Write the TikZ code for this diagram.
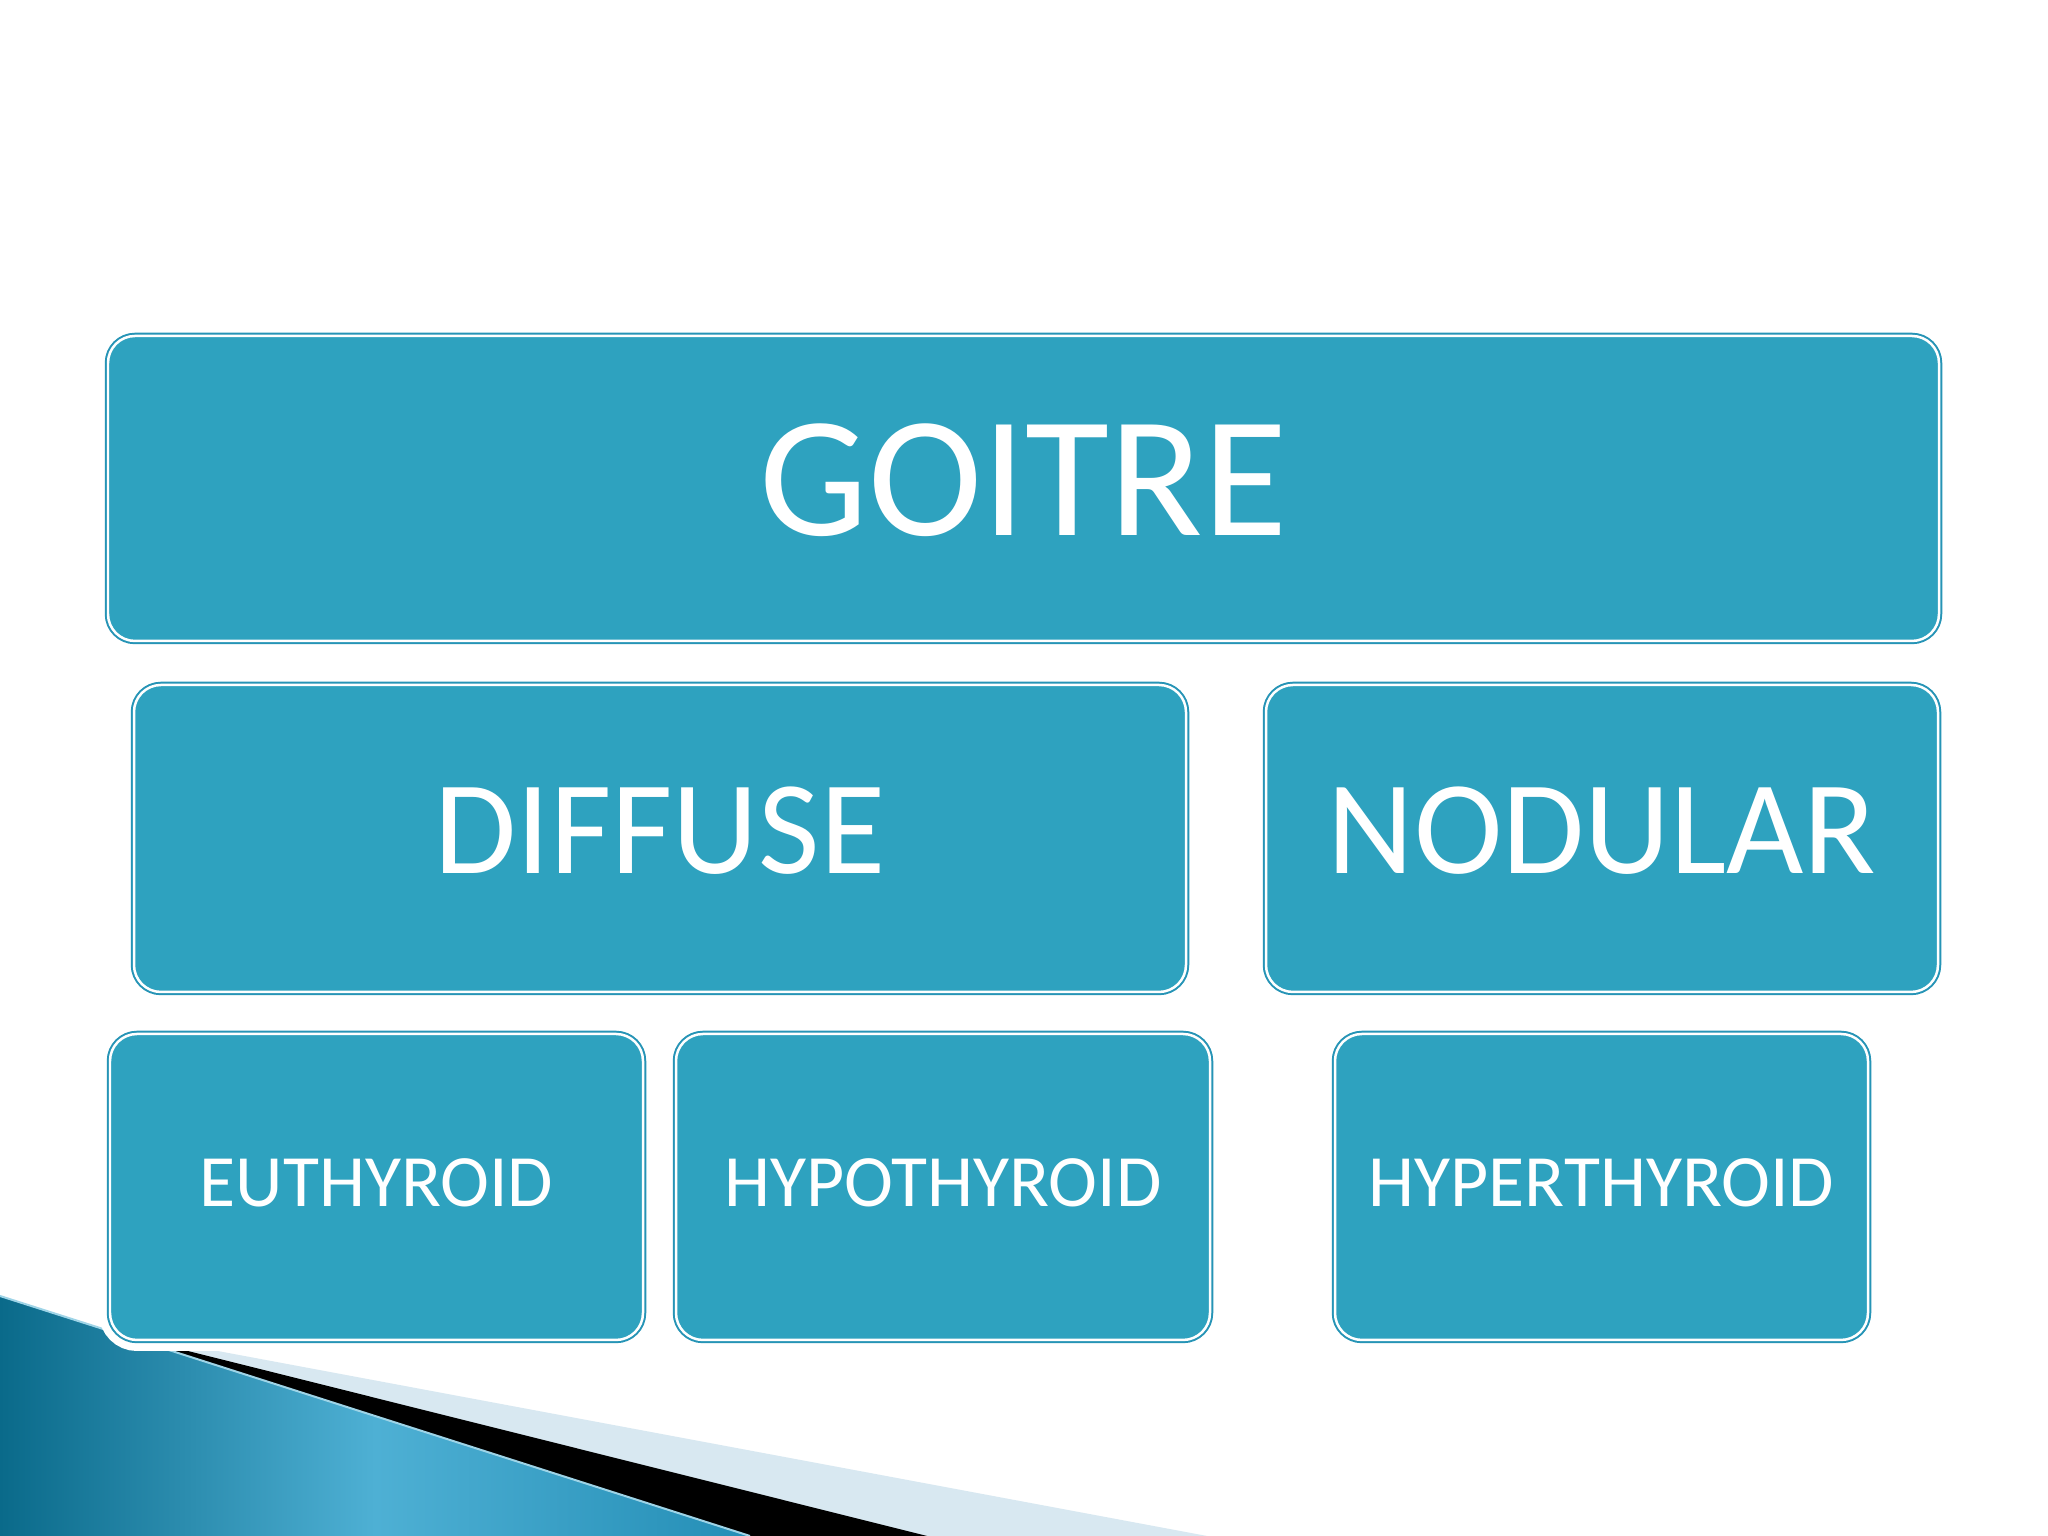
\documentclass[tikz,border=0pt]{standalone}
\usepackage{fontspec}
\setmainfont{Carlito}
\usetikzlibrary{positioning}

\definecolor{boxteal}{RGB}{46,162,191}
\definecolor{ringteal}{RGB}{38,148,182}
\definecolor{bandlight}{RGB}{216,232,241}
\definecolor{cornerdark}{RGB}{10,106,138}
\definecolor{cornerlight}{RGB}{78,176,212}
\definecolor{cornertip}{RGB}{36,142,182}

\begin{document}
\begin{tikzpicture}[
  tealbox/.style={rectangle, rounded corners=0.27cm, inner sep=0pt,
    preaction={draw=white, line width=0.22cm},
    preaction={draw=ringteal, line width=0.065cm},
    fill=boxteal, draw=white, line width=0.025cm, text=white},
  bigtext/.style={font=\fontsize{49}{58}\selectfont, text depth=0.18cm},
  midtext/.style={font=\fontsize{38}{45}\selectfont, text depth=0.16cm},
  smalltext/.style={font=\fontsize{21}{25}\selectfont, text depth=0.08cm}
]
  \fill[white] (0,0) rectangle (20.48,15.36);
  \useasboundingbox (0,0) rectangle (20.48,15.36);

  % corner decoration
  \fill[bandlight] (1.00,2.07) -- (12.07,0) -- (1.00,0) -- cycle;
  \fill[black] (1.00,2.07) -- (9.27,0) -- (1.00,0) -- cycle;
  \shade[left color=cornerdark, right color=cornertip, middle color=cornerlight]
    (0,2.40) -- (7.50,0) -- (0,0) -- cycle;
  \draw[cornerlight!55!white, line width=0.02cm] (0,2.40) -- (7.50,0);

  \node[tealbox, bigtext, minimum width=18.31cm, minimum height=3.05cm] (goitre) at (10.235,10.475) {GOITRE};

  \node[tealbox, midtext, minimum width=10.52cm, minimum height=3.07cm] (diffuse) at (6.60,6.975) {DIFFUSE};
  \node[tealbox, midtext, minimum width=6.72cm, minimum height=3.07cm] (nodular) at (16.02,6.975) {NODULAR};

  \node[tealbox, smalltext, minimum width=5.33cm, minimum height=3.06cm] (euthyroid) at (3.765,3.49) {EUTHYROID};
  \node[tealbox, smalltext, minimum width=5.34cm, minimum height=3.06cm] (hypothyroid) at (9.43,3.49) {HYPOTHYROID};
  \node[tealbox, smalltext, minimum width=5.33cm, minimum height=3.06cm] (hyperthyroid) at (16.015,3.49) {HYPERTHYROID};
\end{tikzpicture}
\end{document}
